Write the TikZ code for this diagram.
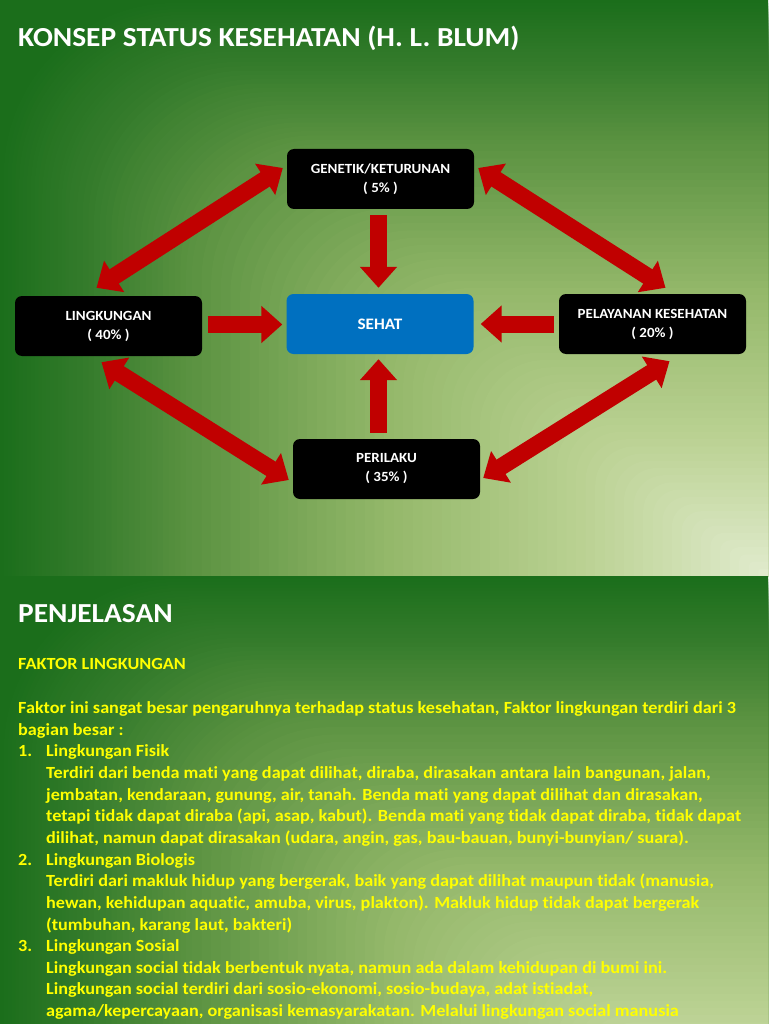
\documentclass[tikz,border=0pt]{standalone}
\usepackage{fontspec}
\setmainfont{Carlito}[FakeStretch=1.07, Ligatures=NoCommon]
\usetikzlibrary{arrows.meta,calc}
\definecolor{dkgreen}{RGB}{27,110,27}
\definecolor{bgA}{RGB}{27,110,27}
\definecolor{bgB}{RGB}{50,122,42}
\definecolor{bgC}{RGB}{92,147,66}
\definecolor{bgD}{RGB}{148,184,106}
\definecolor{bgE}{RGB}{186,209,146}
\definecolor{bgF}{RGB}{226,236,207}
\definecolor{arrowred}{RGB}{192,0,0}
\definecolor{sehatblue}{RGB}{0,112,192}
\definecolor{txtyellow}{RGB}{255,255,0}
\newcommand{\myslidebg}[1]{%
  \begin{scope}
  \clip (0,#1) rectangle (768,{#1+576});
  \fill[bgA] (0,#1) rectangle (768,{#1+576});
  \foreach \tout/\tin/\cout/\cin in {1.0/0.9/bgA/bgB, 0.9/0.75/bgB/bgC, 0.75/0.5/bgC/bgD, 0.5/0.25/bgD/bgE, 0.25/0.0/bgE/bgF}{
    \foreach \j in {0,...,19}{
      \pgfmathsetmacro\tt{\tout-(\tout-\tin)*\j/20}
      \pgfmathsetmacro\rr{0.3*576*\tt+0.01}
      \pgfmathtruncatemacro\pp{\j*5}
      \fill[\cin!\pp!\cout] ({768*(1-\tt)},{#1+1100}) [rounded corners=\rr pt] -- ({768*(1-\tt)},{#1+576*(1-\tt)}) -- (1300,{#1+576*(1-\tt)}) [sharp corners] -- (1300,{#1+1100}) -- cycle;
    }}
  \end{scope}}
\begin{document}
\begin{tikzpicture}[x=1pt,y=-1pt,
  box/.style={fill=black, rounded corners=7pt, minimum width=187pt, minimum height=60pt, inner sep=0pt, text=white, font=\fontsize{14}{19}\selectfont\bfseries, align=center},
  redarrow/.style={draw=arrowred, line width=17pt, -{Triangle[width=36pt,length=21pt]}},
  dblarrow/.style={draw=arrowred, line width=17pt, {Triangle[width=36pt,length=21pt]}-{Triangle[width=36pt,length=21pt]}},
  heading/.style={anchor=base west, inner sep=0pt, text=white, font=\fontsize{27.5}{30}\selectfont\bfseries},
  bodyline/.style={anchor=base west, inner sep=0pt, text=txtyellow, font=\fontsize{17}{20}\selectfont\bfseries}]
\useasboundingbox (0,0) rectangle (768,1024);
% slide backgrounds
\myslidebg{0}
\begin{scope}
  \clip (0,576) rectangle (768,1024);
  \myslidebg{576}
\end{scope}
% title
\node[heading] (title) at (18,47) {KONSEP STATUS KESEHATAN (H. L. BLUM)};
% nodes
\node[box] (gen) at (380.5,179) {GENETIK/KETURUNAN\\( 5\% )};
\node[box] (ling) at (108.5,326) {LINGKUNGAN\\( 40\% )};
\node[box, fill=sehatblue, font=\fontsize{16}{19}\selectfont\bfseries] (sehat) at (380,324) {SEHAT};
\node[box] (pel) at (652.5,324) {PELAYANAN KESEHATAN\\( 20\% )};
\node[box] (peri) at (386.5,469) {PERILAKU\\( 35\% )};
% arrows into SEHAT
\draw[redarrow] ($(gen.south)+(-2,6)$) -- ($(sehat.north)+(-1.5,-6)$);
\draw[redarrow] ($(ling.east)+(6,-1.5)$) -- ($(sehat.west)+(-4,0.5)$);
\draw[redarrow] ($(pel.west)+(-5,0)$) -- ($(sehat.east)+(7,0)$);
\draw[redarrow] ($(peri.north)+(-8,-6)$) -- ($(sehat.south)+(-1.5,5)$);
% double arrows
\draw[dblarrow] ($(gen.west)+(-4,-11)$) -- ($(ling.north)+(-12,-8)$);
\draw[dblarrow] ($(gen.east)+(4,-11)$) -- ($(pel.north)+(13,-6)$);
\draw[dblarrow] ($(ling.south)+(-7,6)$) -- ($(peri.west)+(-4,11)$);
\draw[dblarrow] ($(pel.south)+(17,7)$) -- ($(peri.east)+(3,9)$);
% second slide text
\node[heading] (pen) at (18,622) {PENJELASAN};
\node[bodyline] (l1) at (18,669) {FAKTOR LINGKUNGAN};
\node[bodyline] (l2) at (18,713) {Faktor ini sangat besar pengaruhnya terhadap status kesehatan, Faktor lingkungan terdiri dari 3};
\node[bodyline] (l3) at (18,735) {bagian besar :};
\node[bodyline] (n1) at (18,756) {1.};
\node[bodyline] (l4) at (46,756) {Lingkungan Fisik};
\node[bodyline] (l5) at (46,778) {Terdiri dari benda mati yang dapat dilihat, diraba, dirasakan antara lain bangunan, jalan,};
\node[bodyline] (l6) at (46,800) {jembatan, kendaraan, gunung, air, tanah. Benda mati yang dapat dilihat dan dirasakan,};
\node[bodyline] (l7) at (46,821) {tetapi tidak dapat diraba (api, asap, kabut). Benda mati yang tidak dapat diraba, tidak dapat};
\node[bodyline] (l8) at (46,843) {dilihat, namun dapat dirasakan (udara, angin, gas, bau-bauan, bunyi-bunyian/ suara).};
\node[bodyline] (n2) at (18,865) {2.};
\node[bodyline] (l9) at (46,865) {Lingkungan Biologis};
\node[bodyline] (l10) at (46,886) {Terdiri dari makluk hidup yang bergerak, baik yang dapat dilihat maupun tidak (manusia,};
\node[bodyline] (l11) at (46,908) {hewan, kehidupan aquatic, amuba, virus, plakton). Makluk hidup tidak dapat bergerak};
\node[bodyline] (l12) at (46,930) {(tumbuhan, karang laut, bakteri)};
\node[bodyline] (n3) at (18,951) {3.};
\node[bodyline] (l13) at (46,951) {Lingkungan Sosial};
\node[bodyline] (l14) at (46,973) {Lingkungan social tidak berbentuk nyata, namun ada dalam kehidupan di bumi ini.};
\node[bodyline] (l15) at (46,994) {Lingkungan social terdiri dari sosio-ekonomi, sosio-budaya, adat istiadat,};
\node[bodyline] (l16) at (46,1016) {agama/kepercayaan, organisasi kemasyarakatan. Melalui lingkungan social manusia};
\end{tikzpicture}
\end{document}
